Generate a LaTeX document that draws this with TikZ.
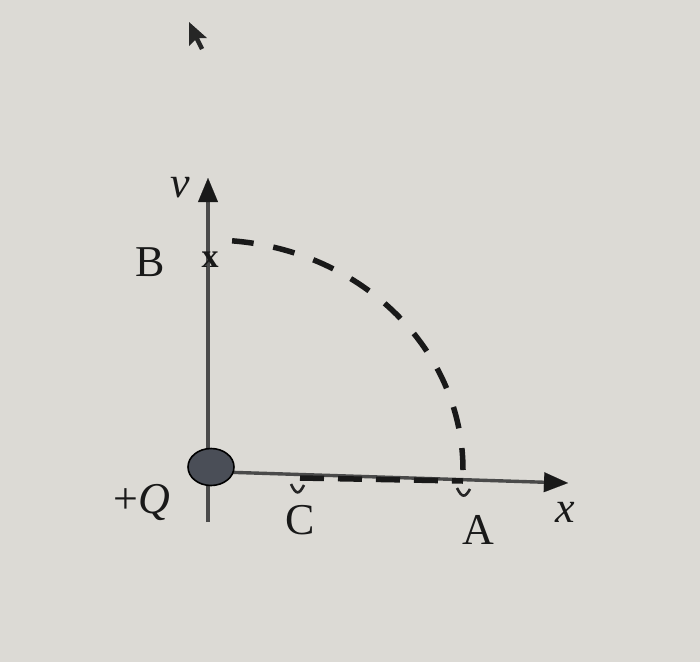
\documentclass[tikz,border=0pt]{standalone}
\usepackage{fontspec}
\setmainfont{Liberation Serif}
\usetikzlibrary{arrows.meta,shapes.geometric}
\definecolor{paper}{HTML}{DCDAD5}
\definecolor{axisgray}{HTML}{4A4A4A}
\definecolor{chargefill}{HTML}{4A4E57}
\tikzset{
  axisline/.style={line width=3.4pt, draw=axisgray, -{Triangle[length=24pt,width=20pt,color=black!90,line width=0.1pt]}},
  pathdash/.style={line width=5.5pt, draw=black!90, dash pattern=on 22pt off 20pt},
  lbl/.style={font=\fontsize{44}{48}\selectfont, text=black!90, inner sep=0pt},
  tickmark/.style={line width=2.6pt, draw=black!85},
}
\begin{document}
\begin{tikzpicture}[x=1pt,y=-1pt]
\fill[paper] (0,0) rectangle (700,662);
\useasboundingbox (0,0) rectangle (700,662);
% cursor
\fill[black!85] (189,22) -- (189,46) -- (195,40) -- (200,50) -- (204,48) -- (199,38) -- (207,38) -- cycle;
% axes
\coordinate (ys) at (208,522);
\coordinate (ye) at (208,178);
\coordinate (xs) at (190,471);
\coordinate (xe) at (568,483);
\draw[axisline] (ys) -- (ye);
\draw[axisline] (xs) -- (xe);
% charge
\node[ellipse, minimum width=46pt, minimum height=37pt, fill=chargefill, draw=black, line width=1.6pt, inner sep=0pt] (Q) at (211,467) {};
% points
\coordinate (A) at (463,470);
\coordinate (C) at (300,478);
\draw[pathdash] (A) arc[start angle=0, end angle=85.2, x radius=252, y radius=-230] coordinate (B);
\draw[pathdash, dash pattern=on 24pt off 14pt] (C) -- (A |- 0,481);
% marks
\node[font=\fontsize{34}{36}\selectfont\bfseries, text=black!90, inner sep=0pt] (Bx) at (210,260) {x};
\draw[tickmark] (291,484) .. controls (296,495) and (299,495) .. (304,485);
\draw[tickmark] (457,488) .. controls (462,498) and (465,498) .. (470,489);
% labels
\node[lbl] (yl) at (180,188) {\textit{v}};
\node[lbl] (Bl) at (150,262) {B};
\node[lbl] (Ql) at (142,502) {+\textit{Q}};
\node[lbl] (Cl) at (300,520) {C};
\node[lbl] (Al) at (478,530) {A};
\node[lbl] (xl) at (565,512) {\textit{x}};
\end{tikzpicture}
\end{document}
